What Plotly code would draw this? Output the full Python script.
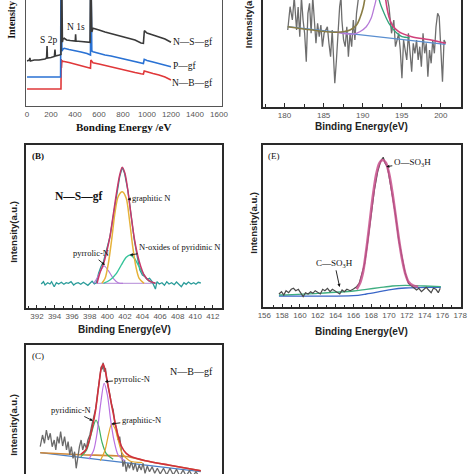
import plotly.graph_objects as go

W = H = 474

# ---------------- Panel A: XPS survey (Bonding Energy / eV) ----------------
a_ticks = [0, 200, 400, 600, 800, 1000, 1200, 1400, 1600]
a_ns_e = [0, 20, 24, 28, 60, 100, 150, 163, 167, 170, 200, 228, 233, 237, 270, 283, 288, 292, 295,
          300, 310, 330, 360, 390, 402, 405, 408, 450, 500, 525, 530, 536, 540, 550, 560, 600, 650,
          700, 750, 800, 850, 900, 950, 970, 978, 990, 1000, 1050, 1100, 1150, 1200]
a_ns_i = [45, 46, 48, 45, 46, 46, 47, 48, 60, 48, 48.5, 49.5, 56.5, 50, 51, 51.5, 150, 150, 64,
          67, 67.7, 66, 65.5, 65, 65, 71.7, 65, 64.5, 64, 63.7, 150, 150, 74, 77.7, 77.5, 76, 74,
          72.5, 71, 69.5, 68, 66, 63, 62.7, 75.3, 74, 73, 71, 69, 67, 63.7]
a_p_e = [0, 100, 200, 280, 283, 287, 291, 300, 310, 350, 400, 450, 500, 525, 529, 531, 535, 540,
         550, 600, 650, 700, 750, 800, 850, 900, 950, 970, 977, 990, 1000, 1050, 1100, 1150, 1200]
a_p_i = [29, 29, 29.3, 29, 150, 150, 55, 57, 57.7, 56.5, 55.5, 54, 52.5, 51, 51, 150, 150, 55,
         54.3, 52.5, 51, 50, 48.5, 47, 45.5, 44, 42.7, 42.5, 46.7, 46, 45.5, 44, 42.5, 41, 39.3]
a_nb_e = [0, 100, 200, 280, 283, 285, 287, 290, 295, 300, 350, 400, 450, 500, 525, 529, 532, 540,
          550, 600, 650, 700, 750, 800, 850, 900, 950, 970, 977, 990, 1000, 1050, 1100, 1150, 1200]
a_nb_i = [17, 17, 17.3, 17, 17, 47, 38, 44, 45, 44.7, 43.5, 42, 40.5, 39, 37.7, 37.7, 46, 44.3,
          43.3, 42, 40.5, 39, 37.5, 36, 35, 33.5, 32.3, 32, 35, 34.5, 34, 32.5, 31, 29, 26]

# ---------------- Panel D: S 2p-like region ----------------
d_ticks = [180, 185, 190, 195, 200]
d_raw_e = [180.41, 180.71, 181.00, 181.24, 181.54, 181.74, 181.95, 182.16, 182.37, 182.57, 182.78,
           182.99, 183.20, 183.40, 183.61, 183.82, 184.02, 184.23, 184.44, 184.65, 184.85, 185.06,
           185.27, 185.48, 185.68, 185.89, 186.10, 186.31, 186.43, 186.64, 186.80, 187.05, 187.22,
           187.34, 187.55, 187.76, 187.97, 188.17, 188.38, 188.59, 188.80, 189.00, 189.21, 189.6,
           190.4, 191.2, 192.0, 192.8, 193.36, 193.69, 193.98, 194.19, 194.40, 194.61, 194.81,
           195.02, 195.23, 195.44, 195.64, 195.85, 196.06, 196.27, 196.47, 196.68, 196.89, 197.10,
           197.30, 197.51, 197.72, 197.93, 198.13, 198.34, 198.55, 198.76, 198.96, 199.17, 199.38,
           199.59, 199.79, 200.00, 200.21, 200.41, 200.62]
d_raw_i = [77, 100.3, 87, 110, 77, 100, 70.3, 110, 87, 73.7, 45.3,
           93.7, 103.7, 73.7, 110, 80.3, 63.7, 83.7, 70.3, 82, 60.3, 73.7,
           77, 80.3, 63.7, 50.3, 77, 40.3, 23.7, 47, 73.7, 100.3, 110,
           87, 67, 60.3, 80.3, 50.3, 73.7, 60.3, 87, 67, 93.7, 118,
           130, 140, 138, 125, 100.3, 73.7, 87, 60.3, 67, 73.7, 57,
           28.7, 67, 53.7, 47, 73.7, 57, 35.3, 63.7, 53.7, 67, 47,
           60.3, 40.3, 73.7, 53.7, 63.7, 30.3, 57, 43.7, 67, 53.7, 80.3,
           93.7, 90.3, 57, 25.3, 67, 63.7]
d_base_e = [180.4, 200.6]
d_base_i = [80.3, 62.7]
d_olive_e = [180.4, 186.7, 188.38, 189.21, 189.63, 190.04, 190.25, 190.8]
d_olive_i = [80.3, 74.8, 77, 82, 88.7, 98.7, 107, 135]
d_purple_e = [186.5, 188.8, 189.63, 190.46, 191.08, 191.49, 191.7, 192.0]
d_purple_i = [75.0, 72.9, 75.3, 80.3, 88.7, 100.3, 107, 135]
d_green_e = [191.9, 192.12, 192.74, 193.36, 194.19, 195.02, 196.0]
d_green_i = [130, 107, 93.7, 83.7, 75.3, 70.3, 69.4]
d_env_e = [192.7, 192.95, 193.36, 193.78, 194.61, 196.27, 198.76, 200.62]
d_env_i = [130, 107, 90.3, 82, 75.3, 70.3, 67, 63.7]

# ---------------- Panel B: N 1s of N-S-gf ----------------
b_ticks = list(range(392, 413, 2))
b_raw_e = [392.48, 392.74, 392.92, 393.22, 393.48, 393.66, 393.96, 394.21, 394.47, 394.77, 395.06,
           395.32, 395.58, 395.87, 396.17, 396.43, 396.69, 396.98, 397.28, 397.54, 397.79, 398.09,
           398.27, 398.53, 398.75, 399.01, 399.27, 399.56, 399.93, 400.30, 400.67, 401.04, 401.41,
           401.70, 401.96, 402.33, 402.70, 403.07, 403.44, 403.70, 403.99, 404.29, 404.55, 404.80,
           405.10, 405.28, 405.47, 405.65, 405.91, 406.21, 406.50, 406.76, 407.02, 407.31, 407.61,
           407.87, 408.13, 408.42, 408.72, 408.97, 409.23, 409.53, 409.82, 410.08, 410.34, 410.63]
b_raw_i = [24.0, 26.3, 23.0, 25.3, 24.0, 26.3, 21.3, 25.3, 24.0, 25.7, 23.7,
           25.3, 24.7, 26.3, 23.0, 24.7, 25.3, 23.7, 25.7, 24.0, 22.7, 25.3,
           26.7, 24.0, 25.3, 34.7, 41.3, 46.3, 58, 71.3, 91.3, 111.3, 131.3,
           140.7, 134.7, 118, 91.3, 68, 49.7, 38, 33, 31.3, 28.7, 29.7,
           26.3, 23.0, 19, 26.3, 24.0, 25.3, 22.7, 26.3, 24.0, 25.3, 23.3,
           26.0, 24.0, 21.3, 25.3, 23.7, 26.0, 24.0, 25.3, 23.7, 25.7, 25.0]
b_env_e = [398.83, 399.20, 399.56, 399.93, 400.30, 400.67, 401.04, 401.41, 401.70, 402.00, 402.33,
           402.70, 403.07, 403.44, 403.81, 404.18, 404.73, 405.47]
b_env_i = [24.7, 36.3, 44, 56.3, 71.3, 93, 114.7, 133, 140.7, 134.7, 118,
           93, 69.7, 53, 41.3, 33, 27.3, 24.7]
b_gra_e = [399.38, 399.75, 400.12, 400.49, 400.86, 401.23, 401.70, 402.15, 402.52, 402.89, 403.25,
           403.62, 404.18]
b_gra_i = [24.7, 29.7, 44.7, 68, 94.7, 111.3, 116.3, 109.7, 88, 61.3, 41.3, 29.7, 24.7]
b_oxi_e = [399.56, 400.30, 401.04, 401.59, 402.15, 402.59, 403.07, 403.62, 404.18, 404.73, 405.47]
b_oxi_i = [24.7, 28, 34.7, 43, 50.7, 53, 49.7, 41.3, 33, 27, 24.7]
b_pyr_e = [398.46, 398.83, 399.20, 399.65, 400.12, 400.67, 401.23, 401.78]
b_pyr_i = [24.7, 29.7, 36.3, 42, 37.3, 29.7, 25.3, 24.7]
b_base_e = [398.4, 405.6]
b_base_i = [24.7, 24.7]

# ---------------- Panel E: S 2p of sulfonated sample ----------------
e_ticks = list(range(156, 179, 2))
e_raw_e = [157.64, 157.93, 158.18, 158.44, 158.73, 159.02, 159.27, 159.53, 159.82, 160.07, 160.36,
           160.62, 160.91, 161.20, 161.45, 161.71, 162.00, 162.29, 162.55, 162.80, 163.09, 163.38,
           163.64, 163.89, 164.18, 164.47, 164.73, 164.98, 165.27, 165.64, 166.00, 166.36, 166.65,
           166.91, 167.27, 167.64, 168.00, 168.36, 168.73, 169.09, 169.35, 169.56, 169.82, 170.07,
           170.36, 170.73, 171.09, 171.45, 171.82, 172.18, 172.55, 172.84, 173.09, 173.35, 173.64,
           173.93, 174.18, 174.44, 174.73, 174.98, 175.27, 175.53, 175.75]
e_raw_i = [13, 15.3, 12, 16.3, 14.3, 17.7, 18.7, 16.3, 17.7, 13.7, 10.3,
           14.3, 13, 15.3, 13.7, 16.3, 14.3, 13, 17.7, 16.3, 18.7, 15.3,
           17.7, 16.3, 14.3, 13, 17, 15.3, 17.7, 16.3, 18, 20.3, 23.7,
           32, 43.7, 67, 93.7, 117, 135.3, 146.3, 149.7, 143.7, 140.3, 127,
           115.3, 92, 67, 48.7, 33.7, 23.7, 21, 19.7, 17, 18.7, 15.3,
           17.7, 19.7, 17, 14.3, 18.7, 17.7, 14.3, 18.7]
e_env_e = [166.36, 166.73, 167.09, 167.45, 167.82, 168.18, 168.55, 168.91, 169.27, 169.64, 170.00,
           170.36, 170.73, 171.09, 171.45, 171.82, 172.18, 172.73, 173.27]
e_env_i = [17.7, 23.7, 35.3, 57, 83.7, 110.3, 132, 143.7, 147, 144.3, 133.7,
           115.3, 92, 68.7, 48.7, 33.7, 25.3, 21.3, 20.3]
e_green_e = [157.64, 162.0, 166.0, 167.45, 168.91, 170.36, 171.82, 174.0, 175.82]
e_green_i = [12, 13.7, 16, 17.7, 19.3, 21, 21.7, 21, 20.3]
e_blue_e = [157.64, 166.0, 167.45, 168.91, 170.36, 171.82, 174.0, 175.82]
e_blue_i = [11, 11.3, 13, 15.3, 17.7, 19, 19.7, 19.7]

# ---------------- Panel C: N 1s of N-B-gf ----------------
c_raw_e = [392.37, 392.63, 392.85, 393.07, 393.29, 393.51, 393.73, 393.96, 394.14, 394.32, 394.51,
           394.69, 394.92, 395.14, 395.36, 395.54, 395.73, 395.91, 396.10, 396.28, 396.46, 396.65,
           396.83, 397.02, 397.20, 397.39, 397.61, 397.79, 398.01, 398.24, 398.46, 398.68, 398.90,
           399.13, 399.31, 399.42, 399.53, 399.64, 399.79, 399.93, 400.12, 400.30, 400.49, 400.67,
           400.86, 401.04, 401.23, 401.41, 401.59, 401.78, 401.96, 402.15, 402.33, 402.52, 402.74,
           402.96, 403.18, 403.40, 403.62, 403.85, 404.07, 404.29, 404.55, 404.80, 405.10, 405.39,
           405.69, 406.02, 406.39, 406.76, 407.13, 407.50, 407.87, 408.24, 408.61, 408.97, 409.34,
           409.71, 410.08, 410.45]
c_raw_i = [27.3, 39, 30.7, 44, 34, 40.7, 27.3, 34, 24, 37.3, 30.7,
           42.3, 28, 37.3, 24, 32.3, 19, 27.3, 15.7, 22.3, 5.7, 19,
           27.3, 34, 24, 30.7, 25.7, 34, 39, 49, 59, 65.7, 80.7,
           95.7, 107.3, 104.7, 111.3, 102.3, 105.7, 94, 87.3, 79, 69, 64,
           50.7, 45.7, 34, 37.3, 24, 7.3, 14, 2.3, 10.7, 5.7, 12.3,
           4, 10.7, 2.3, 9, 4, 10.7, 0.7, 8, 2.3, 7.3, 0.7,
           5.7, 0, 5.7, -1, 5.7, -1, 4.7, -2, 4, -2, 3.3,
           -2.7, 2.3, -2.7]
c_base_e = [392.37, 410.63]
c_base_i = [21.3, 2.3]
c_tail_e = [392.37, 396.98, 402.15, 404.36, 406.94, 410.63]
c_tail_i = [21.3, 19.3, 17.5, 13.3, 9, 3.3]
c_env_e = [396.98, 397.54, 397.90, 398.27, 398.64, 399.01, 399.31, 399.53, 399.75, 400.04, 400.38,
           400.75, 401.11, 401.59, 402.15, 402.89, 404.36, 406.94, 410.63]
c_env_i = [19.7, 24, 32.3, 45.7, 62.3, 87.3, 105.7, 110, 104, 90.7, 74,
           57.3, 42.3, 28, 20.7, 16.7, 13.3, 9, 3.3]
c_pyr_e = [397.90, 398.46, 398.83, 399.20, 399.64, 400.01, 400.38, 400.75, 401.23, 401.96]
c_pyr_i = [14.7, 24, 40.7, 67.3, 90.7, 79, 54, 34, 19, 13.3]
c_pyd_e = [396.98, 397.65, 398.09, 398.46, 398.72, 399.01, 399.38, 399.86, 400.67]
c_pyd_i = [17.3, 24, 37.3, 49, 54, 48, 32.3, 20.7, 14.7]
c_gra_e = [399.20, 399.75, 400.12, 400.49, 400.86, 401.23, 401.70, 402.52, 403.99]
c_gra_i = [13.3, 24, 39, 50, 45.7, 34, 20.7, 13.3, 11.3]

SERIF = "Liberation Serif"
SANS = "Liberation Sans"

fig = go.Figure()


def add_line(x, y, ax, color, width=1.3, smooth=False):
    fig.add_trace(go.Scatter(
        x=x, y=y, xaxis="x" + ax, yaxis="y" + ax, mode="lines",
        line=dict(color=color, width=width, shape="spline" if smooth else "linear",
                  smoothing=0.8 if smooth else None),
        hoverinfo="skip", showlegend=False))


# Panel A  (axis '' -> x / y)
add_line(a_nb_e, a_nb_i, "", "#e0383a", 1.6)
add_line(a_p_e, a_p_i, "", "#2a72d4", 1.6)
add_line(a_ns_e, a_ns_i, "", "#3a3a3a", 1.6)

# Panel D (axis 2)
add_line(d_raw_e, d_raw_i, "2", "#6e6e6e", 1.3)
add_line(d_base_e, d_base_i, "2", "#5a8fd0", 1.3)
add_line(d_purple_e, d_purple_i, "2", "#b67ad8", 1.3, True)
add_line(d_olive_e, d_olive_i, "2", "#8a7d45", 1.6, True)
add_line(d_green_e, d_green_i, "2", "#33a27a", 1.3, True)
add_line(d_env_e, d_env_i, "2", "#d0407a", 1.6, True)

# Panel B (axis 3)
add_line(b_base_e, b_base_i, "3", "#b48ad8", 1.0)
add_line(b_raw_e, b_raw_i, "3", "#2b9c9a", 1.3)
add_line(b_pyr_e, b_pyr_i, "3", "#b47ad8", 1.2, True)
add_line(b_oxi_e, b_oxi_i, "3", "#35c49a", 1.4, True)
add_line(b_gra_e, b_gra_i, "3", "#e6b23a", 1.5, True)
add_line(b_env_e, b_env_i, "3", "#c8386a", 1.5, True)

# Panel E (axis 4)
add_line(e_blue_e, e_blue_i, "4", "#3a66c8", 1.3, True)
add_line(e_green_e, e_green_i, "4", "#3fae80", 1.3, True)
add_line(e_raw_e, e_raw_i, "4", "#4a4a4a", 1.2)
add_line(e_env_e, e_env_i, "4", "rgba(200,80,140,0.85)", 2.6, True)

# Panel C (axis 5)
add_line(c_base_e, c_base_i, "5", "#4a80c8", 1.3)
add_line(c_tail_e, c_tail_i, "5", "#d0893a", 1.6, True)
add_line(c_raw_e, c_raw_i, "5", "#6a6a6a", 1.3)
add_line(c_pyd_e, c_pyd_i, "5", "#3fb060", 1.2, True)
add_line(c_gra_e, c_gra_i, "5", "#e2a52a", 1.2, True)
add_line(c_pyr_e, c_pyr_i, "5", "#b870e0", 1.2, True)
add_line(c_env_e, c_env_i, "5", "#d0303c", 1.6, True)


def dom_x(a, b):
    return [a / W, b / W]


def dom_y(top, bottom):
    return [max(0, 1 - bottom / H), min(1, 1 - top / H)]


tickfont = dict(family=SANS, size=8, color="#555")
BOX = "#2a2a2a"
hidden_y = dict(showticklabels=False, ticks="", showgrid=False, zeroline=False,
                showline=True, mirror=True, linecolor=BOX, linewidth=1.6)

layout = dict(
    width=W, height=H, margin=dict(l=0, r=0, t=0, b=0),
    paper_bgcolor="white", plot_bgcolor="white", showlegend=False,
    xaxis=dict(domain=dom_x(21, 221.7), range=[-5, 1622], anchor="y", tickvals=a_ticks,
               ticks="", showgrid=False, zeroline=False, showline=True, linecolor="#555",
               linewidth=1, tickfont=tickfont),
    yaxis=dict(domain=dom_y(0, 106), range=[0, 106], anchor="x", showticklabels=False,
               ticks="", showgrid=False, zeroline=False, showline=True, mirror=True,
               linecolor="#555", linewidth=1),
    xaxis2=dict(domain=dom_x(264.7, 468), range=[177.3, 202.6], anchor="y2", tickvals=d_ticks,
                ticks="inside", ticklen=4, tickcolor=BOX,
                minor=dict(dtick=2.5, ticks="inside", ticklen=3, tickcolor=BOX),
                showgrid=False, zeroline=False, showline=True, linecolor=BOX, linewidth=1.6,
                tickfont=tickfont),
    yaxis2=dict(domain=dom_y(0, 107), range=[0, 107], anchor="x2", **hidden_y),
    xaxis3=dict(domain=dom_x(21, 221.7), range=[390.8, 413.0], anchor="y3", tickvals=b_ticks,
                ticks="inside", ticklen=3, tickcolor=BOX,
                minor=dict(dtick=1, ticks="inside", ticklen=2, tickcolor=BOX),
                showgrid=False, zeroline=False, showline=True, mirror=True, linecolor=BOX,
                linewidth=1.6, tickfont=tickfont),
    yaxis3=dict(domain=dom_y(145, 308), range=[0, 163], anchor="x3", **hidden_y),
    xaxis4=dict(domain=dom_x(264.7, 468), range=[155.9, 178.1], anchor="y4", tickvals=e_ticks,
                ticks="inside", ticklen=3, tickcolor=BOX,
                minor=dict(dtick=1, ticks="inside", ticklen=2, tickcolor=BOX),
                showgrid=False, zeroline=False, showline=True, mirror=True, linecolor=BOX,
                linewidth=1.6, tickfont=tickfont),
    yaxis4=dict(domain=dom_y(145, 307), range=[0, 162], anchor="x4", **hidden_y),
    xaxis5=dict(domain=dom_x(21, 221.7), range=[390.8, 413.0], anchor="y5", side="top",
                showticklabels=False, ticks="", showgrid=False, zeroline=False,
                showline=True, linecolor=BOX, linewidth=1.6),
    yaxis5=dict(domain=dom_y(345, 474), range=[0, 129], anchor="x5", **hidden_y),
)
fig.update_layout(**layout)


def note(text, x, y, size=9, family=SERIF, color="#111", angle=0, xanchor="center",
         yanchor="middle"):
    fig.add_annotation(text=text, x=x / W, y=1 - y / H, xref="paper", yref="paper",
                       showarrow=False, font=dict(family=family, size=size, color=color),
                       textangle=angle, xanchor=xanchor, yanchor=yanchor)


def arrow_note(text, tx, ty, hx, hy, size=8.5):
    fig.add_annotation(text=text, x=hx / W, y=1 - hy / H, xref="paper", yref="paper",
                       ax=tx - hx, ay=ty - hy, showarrow=True, arrowhead=2, arrowsize=0.7,
                       arrowwidth=0.9, arrowcolor="#111",
                       font=dict(family=SERIF, size=size, color="#111"))


# Panel A texts
note("<b>Bonding Energy /eV</b>", 121, 127, size=11)
note("<b>Intensity</b>", 5, 20, size=10, angle=-90)
note("N—S—gf", 192.5, 42, size=9.5)
note("P—gf", 184.5, 66, size=9.5)
note("N—B—gf", 192, 82.7, size=9.5)
note("S 2p", 44, 40, size=9.5)
note("N 1s", 72, 26.7, size=9.5)

# Panel D texts
note("<b>Binding Energy(eV)</b>", 366, 127, size=10, family=SANS, color="#222")
note("<b>Intensity(a.u.)</b>", 249, 50, size=9.5, family=SANS, color="#222", angle=-90,
     yanchor="bottom")

# Panel B texts
note("<b>Binding Energy(eV)</b>", 121.5, 329, size=10, family=SANS, color="#222")
note("<b>Intensity(a.u.)</b>", 7, 232, size=9.5, family=SANS, color="#222", angle=-90)
note("<b>(B)</b>", 32.5, 155.7, size=9)
note("<b>N—S—gf</b>", 74.5, 196, size=11.5)
arrow_note("graphitic N", 148.7, 198.3, 125, 199.3)
arrow_note("N-oxides of pyridinic N", 176.7, 247.3, 127.3, 255)
arrow_note("pyrrolic-N", 87.5, 253.3, 101.7, 265)

# Panel E texts
note("<b>Binding Energy(eV)</b>", 366, 331, size=10, family=SANS, color="#222")
note("<b>Intensity(a.u.)</b>", 253.7, 223, size=9.5, family=SANS, color="#222", angle=-90)
note("(E)", 275.3, 155.7, size=9)
arrow_note("O—SO<sub>3</sub>H", 417, 162.7, 391, 166.7, size=9)
arrow_note("C—SO<sub>3</sub>H", 338, 263.3, 343, 287, size=9)

# Panel C texts
note("<b>Intensity(a.u.)</b>", 7, 425, size=9.5, family=SANS, color="#222", angle=-90)
note("(C)", 32.8, 355.7, size=9)
note("N—B—gf", 190.8, 371.7, size=10)
arrow_note("pyrrolic-N", 129.2, 379.3, 101.7, 381.7)
arrow_note("pyridinic-N", 67.5, 410, 89.3, 420.7)
arrow_note("graphitic-N", 138.3, 420, 108.3, 424)

fig.write_html("out.html")
